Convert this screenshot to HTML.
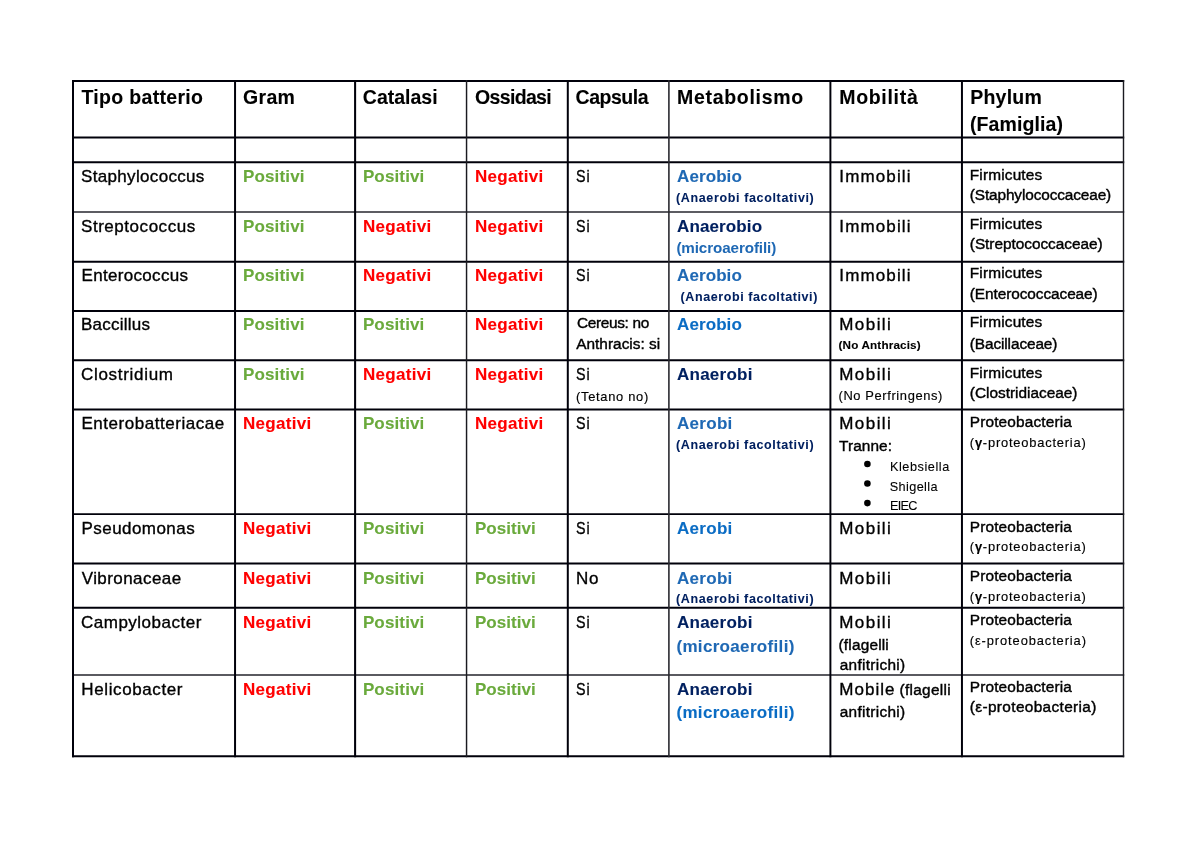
<!DOCTYPE html>
<html lang="it">
<head>
<meta charset="utf-8">
<title>Tabella batteri</title>
<style>
html,body{margin:0;padding:0;background:#fff;}
body{width:1200px;height:848px;position:relative;overflow:hidden;font-family:"Liberation Sans", sans-serif;color:#000;}
.t{position:absolute;white-space:pre;line-height:1;}
.b{font-weight:bold;}
.hb{font-size:19.5px;-webkit-text-stroke:0.1px;}
.ar{font-size:17.0px;-webkit-text-stroke:0.35px;}
.ab{font-size:17.0px;-webkit-text-stroke:0.1px;}
.sr{font-size:17.0px;-webkit-text-stroke:0.35px;transform:scaleX(0.84);transform-origin:0 0;}
.br{font-size:15.4px;-webkit-text-stroke:0.4px;}
.mb{font-size:15.2px;-webkit-text-stroke:0.0px;}
.cr{font-size:12.9px;-webkit-text-stroke:0.15px;}
.nb{font-size:12.5px;-webkit-text-stroke:0.05px;}
.db{font-size:11.7px;-webkit-text-stroke:0.1px;}
.lr{font-size:12.7px;-webkit-text-stroke:0.1px;}
.grid{position:absolute;left:0;top:0;}
.grid circle{fill:#000;}
</style>
</head>
<body>
<svg class="grid" width="1200" height="848" viewBox="0 0 1200 848">
<g stroke="#00000a" stroke-width="2">
<line x1="72.00" y1="81.00" x2="1124.20" y2="81.00"/>
<line x1="72.00" y1="137.55" x2="1124.20" y2="137.55"/>
<line x1="72.00" y1="162.20" x2="1124.20" y2="162.20"/>
<line x1="72.00" y1="211.90" x2="1124.20" y2="211.90" stroke="#5c5c62"/>
<line x1="72.00" y1="261.70" x2="1124.20" y2="261.70" stroke-width="1.9"/>
<line x1="72.00" y1="311.00" x2="1124.20" y2="311.00"/>
<line x1="72.00" y1="360.20" x2="1124.20" y2="360.20" stroke-width="1.9"/>
<line x1="72.00" y1="409.45" x2="1124.20" y2="409.45" stroke-width="1.9"/>
<line x1="72.00" y1="514.10" x2="1124.20" y2="514.10" stroke-width="1.9"/>
<line x1="72.00" y1="563.50" x2="1124.20" y2="563.50"/>
<line x1="72.00" y1="607.75" x2="1124.20" y2="607.75"/>
<line x1="72.00" y1="674.95" x2="1124.20" y2="674.95" stroke-width="1.9" stroke="#5a5a60"/>
<line x1="72.00" y1="756.30" x2="1124.20" y2="756.30" stroke-width="2.1"/>
<line x1="73.00" y1="80.00" x2="73.00" y2="757.35"/>
<line x1="235.05" y1="80.00" x2="235.05" y2="757.35"/>
<line x1="355.10" y1="80.00" x2="355.10" y2="757.35" stroke-width="2.05"/>
<line x1="466.55" y1="80.00" x2="466.55" y2="757.35" stroke-width="1.45" stroke="#1a1a20"/>
<line x1="567.80" y1="80.00" x2="567.80" y2="757.35"/>
<line x1="668.90" y1="80.00" x2="668.90" y2="757.35" stroke-width="1.6" stroke="#2a2a30"/>
<line x1="830.40" y1="80.00" x2="830.40" y2="757.35" stroke-width="1.95"/>
<line x1="961.95" y1="80.00" x2="961.95" y2="757.35"/>
<line x1="1123.50" y1="80.00" x2="1123.50" y2="757.35" stroke-width="1.4" stroke="#1a1a20"/>
</g>
<circle cx="867.4" cy="464.0" r="3.3"/>
<circle cx="867.4" cy="483.5" r="3.3"/>
<circle cx="867.4" cy="503.1" r="3.3"/>
</svg>
<span class="t b hb" style="left:81.5px;top:88px;letter-spacing:0.31px;">Tipo batterio</span>
<span class="t b hb" style="left:243.0px;top:88px;letter-spacing:0.33px;">Gram</span>
<span class="t b hb" style="left:362.8px;top:88px;letter-spacing:0.00px;">Catalasi</span>
<span class="t b hb" style="left:475.0px;top:88px;letter-spacing:-0.66px;">Ossidasi</span>
<span class="t b hb" style="left:575.6px;top:88px;letter-spacing:-0.48px;">Capsula</span>
<span class="t b hb" style="left:677.0px;top:88px;letter-spacing:0.70px;">Metabolismo</span>
<span class="t b hb" style="left:839.2px;top:88px;letter-spacing:0.70px;">Mobilità</span>
<span class="t b hb" style="left:970.2px;top:88px;letter-spacing:0.24px;">Phylum</span>
<span class="t b hb" style="left:969.9px;top:115px;letter-spacing:0.12px;">(Famiglia)</span>
<span class="t ar" style="left:81.0px;top:168px;letter-spacing:0.33px;">Staphylococcus</span>
<span class="t ar" style="left:81.0px;top:218px;letter-spacing:0.54px;">Streptococcus</span>
<span class="t ar" style="left:81.5px;top:267px;letter-spacing:0.32px;">Enterococcus</span>
<span class="t ar" style="left:81.0px;top:316px;letter-spacing:0.25px;">Baccillus</span>
<span class="t ar" style="left:81.0px;top:366px;letter-spacing:0.70px;">Clostridium</span>
<span class="t ar" style="left:81.5px;top:415px;letter-spacing:0.53px;">Enterobatteriacae</span>
<span class="t ar" style="left:81.5px;top:520px;letter-spacing:0.45px;">Pseudomonas</span>
<span class="t ar" style="left:81.7px;top:570px;letter-spacing:0.43px;">Vibronaceae</span>
<span class="t ar" style="left:81.0px;top:614px;letter-spacing:0.50px;">Campylobacter</span>
<span class="t ar" style="left:81.3px;top:681px;letter-spacing:0.61px;">Helicobacter</span>
<span class="t b ab" style="left:243.0px;top:168px;letter-spacing:0.14px;color:#6aaa3c;">Positivi</span>
<span class="t b ab" style="left:362.9px;top:168px;letter-spacing:0.14px;color:#6aaa3c;">Positivi</span>
<span class="t b ab" style="left:474.9px;top:168px;letter-spacing:0.31px;color:#ff0000;">Negativi</span>
<span class="t b ab" style="left:243.0px;top:218px;letter-spacing:0.14px;color:#6aaa3c;">Positivi</span>
<span class="t b ab" style="left:362.9px;top:218px;letter-spacing:0.31px;color:#ff0000;">Negativi</span>
<span class="t b ab" style="left:474.9px;top:218px;letter-spacing:0.31px;color:#ff0000;">Negativi</span>
<span class="t b ab" style="left:243.0px;top:267px;letter-spacing:0.14px;color:#6aaa3c;">Positivi</span>
<span class="t b ab" style="left:362.9px;top:267px;letter-spacing:0.31px;color:#ff0000;">Negativi</span>
<span class="t b ab" style="left:474.9px;top:267px;letter-spacing:0.31px;color:#ff0000;">Negativi</span>
<span class="t b ab" style="left:243.0px;top:316px;letter-spacing:0.14px;color:#6aaa3c;">Positivi</span>
<span class="t b ab" style="left:362.9px;top:316px;letter-spacing:0.14px;color:#6aaa3c;">Positivi</span>
<span class="t b ab" style="left:474.9px;top:316px;letter-spacing:0.31px;color:#ff0000;">Negativi</span>
<span class="t b ab" style="left:243.0px;top:366px;letter-spacing:0.14px;color:#6aaa3c;">Positivi</span>
<span class="t b ab" style="left:362.9px;top:366px;letter-spacing:0.31px;color:#ff0000;">Negativi</span>
<span class="t b ab" style="left:474.9px;top:366px;letter-spacing:0.31px;color:#ff0000;">Negativi</span>
<span class="t b ab" style="left:243.0px;top:415px;letter-spacing:0.31px;color:#ff0000;">Negativi</span>
<span class="t b ab" style="left:362.9px;top:415px;letter-spacing:0.14px;color:#6aaa3c;">Positivi</span>
<span class="t b ab" style="left:474.9px;top:415px;letter-spacing:0.31px;color:#ff0000;">Negativi</span>
<span class="t b ab" style="left:243.0px;top:520px;letter-spacing:0.31px;color:#ff0000;">Negativi</span>
<span class="t b ab" style="left:362.9px;top:520px;letter-spacing:0.14px;color:#6aaa3c;">Positivi</span>
<span class="t b ab" style="left:474.9px;top:520px;letter-spacing:0.04px;color:#6aaa3c;">Positivi</span>
<span class="t b ab" style="left:243.0px;top:570px;letter-spacing:0.31px;color:#ff0000;">Negativi</span>
<span class="t b ab" style="left:362.9px;top:570px;letter-spacing:0.14px;color:#6aaa3c;">Positivi</span>
<span class="t b ab" style="left:474.9px;top:570px;letter-spacing:0.04px;color:#6aaa3c;">Positivi</span>
<span class="t b ab" style="left:243.0px;top:614px;letter-spacing:0.31px;color:#ff0000;">Negativi</span>
<span class="t b ab" style="left:362.9px;top:614px;letter-spacing:0.14px;color:#6aaa3c;">Positivi</span>
<span class="t b ab" style="left:474.9px;top:614px;letter-spacing:0.04px;color:#6aaa3c;">Positivi</span>
<span class="t b ab" style="left:243.0px;top:681px;letter-spacing:0.31px;color:#ff0000;">Negativi</span>
<span class="t b ab" style="left:362.9px;top:681px;letter-spacing:0.14px;color:#6aaa3c;">Positivi</span>
<span class="t b ab" style="left:474.9px;top:681px;letter-spacing:0.04px;color:#6aaa3c;">Positivi</span>
<span class="t sr" style="left:575.9px;top:168px;letter-spacing:1.07px;">Si</span>
<span class="t sr" style="left:575.9px;top:218px;letter-spacing:1.07px;">Si</span>
<span class="t sr" style="left:575.9px;top:267px;letter-spacing:1.07px;">Si</span>
<span class="t sr" style="left:575.9px;top:366px;letter-spacing:1.07px;">Si</span>
<span class="t sr" style="left:575.9px;top:415px;letter-spacing:1.07px;">Si</span>
<span class="t sr" style="left:575.9px;top:520px;letter-spacing:1.07px;">Si</span>
<span class="t sr" style="left:575.9px;top:614px;letter-spacing:1.07px;">Si</span>
<span class="t sr" style="left:575.9px;top:681px;letter-spacing:1.07px;">Si</span>
<span class="t ar" style="left:576.0px;top:570px;letter-spacing:0.60px;">No</span>
<span class="t br" style="left:576.9px;top:315px;letter-spacing:-0.32px;">Cereus: no</span>
<span class="t br" style="left:576.2px;top:336px;letter-spacing:0.02px;">Anthracis: si</span>
<span class="t cr" style="left:576.0px;top:391px;letter-spacing:0.70px;">(Tetano no)</span>
<span class="t b ab" style="left:677.0px;top:168px;letter-spacing:0.10px;color:#1e68b4;">Aerobio</span>
<span class="t b nb" style="left:676.0px;top:192px;letter-spacing:0.64px;color:#002060;">(Anaerobi facoltativi)</span>
<span class="t b ab" style="left:677.0px;top:218px;letter-spacing:0.12px;color:#002060;">Anaerobio</span>
<span class="t b mb" style="left:676.4px;top:240px;letter-spacing:-0.10px;color:#1e68b4;">(microaerofili)</span>
<span class="t b ab" style="left:677.0px;top:267px;letter-spacing:0.10px;color:#1e68b4;">Aerobio</span>
<span class="t b nb" style="left:680.6px;top:291px;letter-spacing:0.59px;color:#002060;">(Anaerobi facoltativi)</span>
<span class="t b ab" style="left:677.0px;top:316px;letter-spacing:0.10px;color:#0a6cc4;">Aerobio</span>
<span class="t b ab" style="left:677.0px;top:366px;letter-spacing:0.24px;color:#002060;">Anaerobi</span>
<span class="t b ab" style="left:677.0px;top:415px;letter-spacing:0.30px;color:#1e68b4;">Aerobi</span>
<span class="t b nb" style="left:676.0px;top:439px;letter-spacing:0.63px;color:#002060;">(Anaerobi facoltativi)</span>
<span class="t b ab" style="left:677.0px;top:520px;letter-spacing:0.30px;color:#0a6cc4;">Aerobi</span>
<span class="t b ab" style="left:677.0px;top:570px;letter-spacing:0.30px;color:#1e68b4;">Aerobi</span>
<span class="t b nb" style="left:676.0px;top:593px;letter-spacing:0.63px;color:#002060;">(Anaerobi facoltativi)</span>
<span class="t b ab" style="left:677.0px;top:614px;letter-spacing:0.24px;color:#002060;">Anaerobi</span>
<span class="t b ab" style="left:676.4px;top:638px;letter-spacing:0.33px;color:#1e68b4;">(microaerofili)</span>
<span class="t b ab" style="left:677.0px;top:681px;letter-spacing:0.24px;color:#002060;">Anaerobi</span>
<span class="t b ab" style="left:676.4px;top:704px;letter-spacing:0.33px;color:#0a6cc4;">(microaerofili)</span>
<span class="t ar" style="left:839.3px;top:168px;letter-spacing:1.14px;">Immobili</span>
<span class="t ar" style="left:839.3px;top:218px;letter-spacing:1.14px;">Immobili</span>
<span class="t ar" style="left:839.3px;top:267px;letter-spacing:1.14px;">Immobili</span>
<span class="t ar" style="left:839.2px;top:316px;letter-spacing:1.46px;">Mobili</span>
<span class="t ar" style="left:839.2px;top:366px;letter-spacing:1.46px;">Mobili</span>
<span class="t ar" style="left:839.2px;top:415px;letter-spacing:1.46px;">Mobili</span>
<span class="t ar" style="left:839.2px;top:520px;letter-spacing:1.46px;">Mobili</span>
<span class="t ar" style="left:839.2px;top:570px;letter-spacing:1.46px;">Mobili</span>
<span class="t ar" style="left:839.2px;top:614px;letter-spacing:1.46px;">Mobili</span>
<span class="t b db" style="left:838.5px;top:339px;letter-spacing:0.16px;">(No Anthracis)</span>
<span class="t cr" style="left:838.5px;top:390px;letter-spacing:0.62px;">(No Perfringens)</span>
<span class="t br" style="left:839.1px;top:438px;letter-spacing:0.07px;">Tranne:</span>
<span class="t lr" style="left:889.9px;top:461px;letter-spacing:0.56px;">Klebsiella</span>
<span class="t lr" style="left:889.7px;top:481px;letter-spacing:0.39px;">Shigella</span>
<span class="t lr" style="left:889.9px;top:500px;letter-spacing:-0.67px;">EIEC</span>
<span class="t br" style="left:838.5px;top:637px;letter-spacing:0.19px;">(flagelli</span>
<span class="t br" style="left:839.7px;top:657px;letter-spacing:0.30px;">anfitrichi)</span>
<span class="t ar" style="left:839.2px;top:681px;letter-spacing:1.06px;">Mobile</span>
<span class="t br" style="left:899.5px;top:682px;letter-spacing:0.31px;">(flagelli</span>
<span class="t br" style="left:839.7px;top:704px;letter-spacing:0.30px;">anfitrichi)</span>
<span class="t br" style="left:969.8px;top:167px;letter-spacing:0.16px;">Firmicutes</span>
<span class="t br" style="left:969.8px;top:187px;letter-spacing:-0.13px;">(Staphylococcaceae)</span>
<span class="t br" style="left:969.8px;top:216px;letter-spacing:0.16px;">Firmicutes</span>
<span class="t br" style="left:969.8px;top:236px;letter-spacing:-0.04px;">(Streptococcaceae)</span>
<span class="t br" style="left:969.8px;top:265px;letter-spacing:0.16px;">Firmicutes</span>
<span class="t br" style="left:969.8px;top:286px;letter-spacing:-0.08px;">(Enterococcaceae)</span>
<span class="t br" style="left:969.8px;top:314px;letter-spacing:0.16px;">Firmicutes</span>
<span class="t br" style="left:969.8px;top:336px;letter-spacing:-0.11px;">(Bacillaceae)</span>
<span class="t br" style="left:969.8px;top:365px;letter-spacing:0.16px;">Firmicutes</span>
<span class="t br" style="left:969.8px;top:385px;letter-spacing:-0.01px;">(Clostridiaceae)</span>
<span class="t br" style="left:969.8px;top:414px;letter-spacing:0.15px;">Proteobacteria</span>
<span class="t cr" style="left:969.8px;top:437px;letter-spacing:0.79px;">(<b>γ</b>-proteobacteria)</span>
<span class="t br" style="left:969.8px;top:519px;letter-spacing:0.15px;">Proteobacteria</span>
<span class="t cr" style="left:969.8px;top:541px;letter-spacing:0.79px;">(<b>γ</b>-proteobacteria)</span>
<span class="t br" style="left:969.8px;top:568px;letter-spacing:0.15px;">Proteobacteria</span>
<span class="t cr" style="left:969.8px;top:591px;letter-spacing:0.79px;">(<b>γ</b>-proteobacteria)</span>
<span class="t br" style="left:969.8px;top:612px;letter-spacing:0.15px;">Proteobacteria</span>
<span class="t cr" style="left:969.8px;top:635px;letter-spacing:0.89px;">(ε-proteobacteria)</span>
<span class="t br" style="left:969.8px;top:679px;letter-spacing:0.15px;">Proteobacteria</span>
<span class="t br" style="left:969.8px;top:699px;letter-spacing:0.35px;">(ε-proteobacteria)</span>
</body>
</html>
